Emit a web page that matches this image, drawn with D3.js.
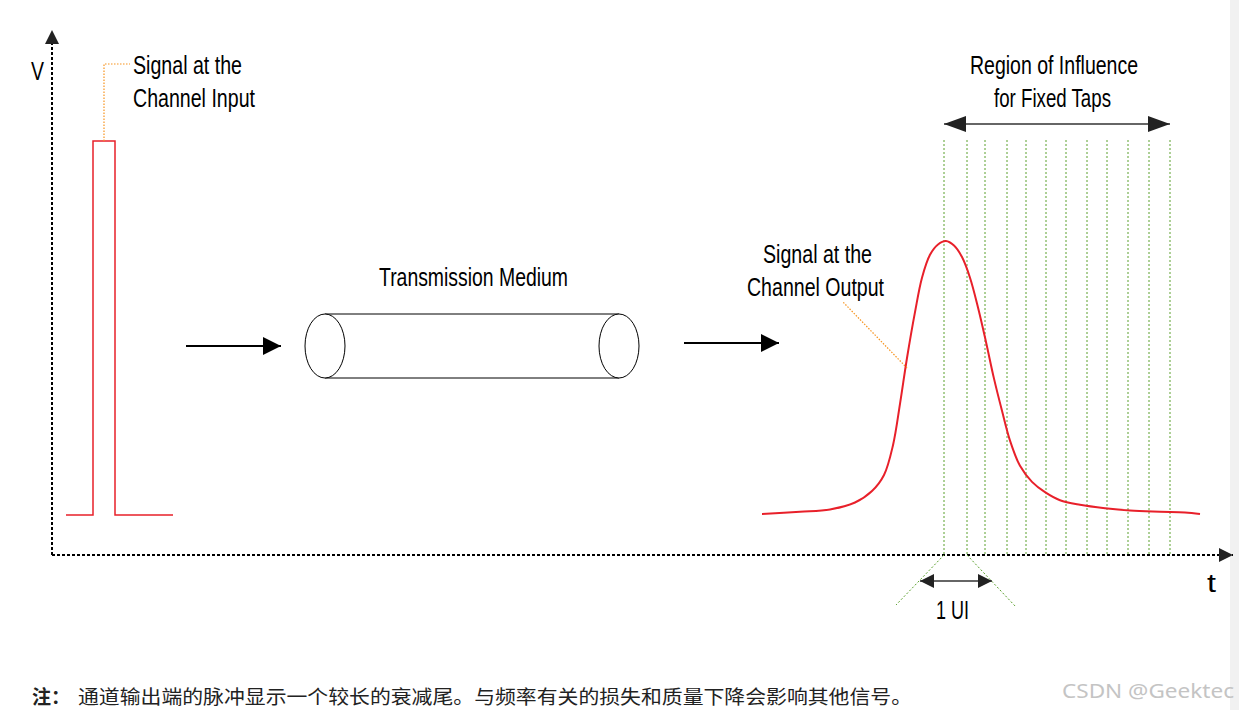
<!DOCTYPE html>
<html><head><meta charset="utf-8">
<script src="https://cdn.jsdelivr.net/npm/d3@7"></script>
<style>body{margin:0;background:#fff}text{font-family:"Liberation Sans","DejaVu Sans",sans-serif;}</style>
</head><body><svg id="c" width="1239" height="710"></svg>
<script>
// Data (time in diagram units, voltage units)
const inputPulseT = [66, 93, 93, 115, 115, 173];
const inputPulseV = [0, 0, 100, 100, 0, 0];
const outT = [762, 800, 830, 855, 872, 884, 893, 900, 907, 915, 922, 930, 938, 946, 954, 962, 970, 978, 986, 994, 1002, 1010, 1020, 1032, 1045, 1060, 1080, 1105, 1130, 1160, 1185, 1200];
const outV = [0, 1, 2, 5, 10, 17, 30, 48, 68, 88, 103, 113, 117.5, 119, 117, 112, 103, 90, 75, 59, 45, 32, 21, 14, 9.5, 6, 4, 2.5, 1.5, 1, 0.7, 0];
const tapT = [944, 967, 985, 1007, 1026, 1046, 1066, 1087, 1107, 1128, 1149, 1170];
const labels = {v:"V", t:"t", input:["Signal at the","Channel Input"], output:["Signal at the","Channel Output"], medium:"Transmission Medium", region:["Region of Influence","for Fixed Taps"], ui:"1 UI"};
const note = "通道输出端的脉冲显示一个较长的衰减尾。与频率有关的损失和质量下降会影响其他信号。";

const svg = d3.select("#c");
const x = d3.scaleLinear().domain([0,1239]).range([0,1239]);
const y = d3.scaleLinear().domain([0,100]).range([515,141]);
const yOut = d3.scaleLinear().domain([0,119]).range([514,241]);
const defs = svg.append("defs");
defs.append("marker").attr("id","big").attr("viewBox","0 0 22 16").attr("refX",22).attr("refY",8)
 .attr("markerWidth",22).attr("markerHeight",16).attr("markerUnits","userSpaceOnUse").attr("orient","auto-start-reverse")
 .append("path").attr("d","M0,0L22,8L0,16Z").attr("fill","#222");
defs.append("marker").attr("id","mid").attr("viewBox","0 0 14 14").attr("refX",14).attr("refY",7)
 .attr("markerWidth",14).attr("markerHeight",14).attr("markerUnits","userSpaceOnUse").attr("orient","auto-start-reverse")
 .append("path").attr("d","M0,0L14,7L0,14Z").attr("fill","#222");
defs.append("marker").attr("id","arr").attr("viewBox","0 0 18 18").attr("refX",18).attr("refY",9)
 .attr("markerWidth",18).attr("markerHeight",18).attr("markerUnits","userSpaceOnUse").attr("orient","auto")
 .append("path").attr("d","M0,0L18,9L0,18Z").attr("fill","#000");

function label(s,xx,yy,w,anchor){
  svg.append("text").attr("x",xx).attr("y",yy).attr("text-anchor",anchor||"start").attr("font-size",25)
    .attr("textLength",w).attr("lengthAdjust","spacingAndGlyphs").text(s);
}

svg.append("rect").attr("x",1230).attr("y",0).attr("width",9).attr("height",710).attr("fill","#f1f1f1");

// axes
svg.append("line").attr("x1",52).attr("y1",555).attr("x2",52).attr("y2",30).attr("stroke","#000").attr("stroke-width",2).attr("stroke-dasharray","3,2").attr("marker-end","url(#mid)");
svg.append("line").attr("x1",52).attr("y1",555).attr("x2",1233).attr("y2",555).attr("stroke","#000").attr("stroke-width",2).attr("stroke-dasharray","3,2").attr("marker-end","url(#mid)");
label(labels.v,31,80,13);
label(labels.t,1207,592,9);

// taps
svg.selectAll(".tap").data(tapT).join("line").attr("x1",d=>x(d)).attr("x2",d=>x(d)).attr("y1",140).attr("y2",555)
 .attr("stroke","#5aa02c").attr("stroke-width",1).attr("stroke-dasharray","2,2");

// input pulse
const line = d3.line().x(d=>x(d[0])).y(d=>y(d[1]));
svg.append("path").datum(inputPulseT.map((t,i)=>[t,inputPulseV[i]])).attr("d",line).attr("fill","none").attr("stroke","#e8202a").attr("stroke-width",1.5);
svg.append("path").attr("d","M104,141V64H130").attr("fill","none").attr("stroke","#f7931e").attr("stroke-width",1.2).attr("stroke-dasharray","1.5,1.5");
label(labels.input[0],133,74,109);
label(labels.input[1],133,107,122);

// output curve
const cl = d3.line().x(d=>x(d[0])).y(d=>yOut(d[1])).curve(d3.curveCatmullRom);
svg.append("path").datum(outT.map((t,i)=>[t,outV[i]])).attr("d",cl).attr("fill","none").attr("stroke","#e8202a").attr("stroke-width",2);
svg.append("line").attr("x1",907).attr("y1",368).attr("x2",843).attr("y2",302).attr("stroke","#f7931e").attr("stroke-width",1.2).attr("stroke-dasharray","1.5,1.5");
label(labels.output[0],763,263,109);
label(labels.output[1],747,296,137);

// arrows
svg.append("line").attr("x1",186).attr("y1",346).attr("x2",281).attr("y2",346).attr("stroke","#000").attr("stroke-width",2).attr("marker-end","url(#arr)");
svg.append("line").attr("x1",684).attr("y1",343).attr("x2",779).attr("y2",343).attr("stroke","#000").attr("stroke-width",2).attr("marker-end","url(#arr)");

// cylinder
svg.append("path").attr("d","M325,314H619M325,378H619").attr("stroke","#000").attr("stroke-width",1);
svg.append("ellipse").attr("cx",325).attr("cy",346).attr("rx",20).attr("ry",32).attr("fill","#fff").attr("stroke","#000");
svg.append("ellipse").attr("cx",619).attr("cy",346).attr("rx",20).attr("ry",32).attr("fill","#fff").attr("stroke","#000");
label(labels.medium,379,286,189);

// region
svg.append("line").attr("x1",x(tapT[0])).attr("x2",x(tapT[tapT.length-1])).attr("y1",124).attr("y2",124).attr("stroke","#333").attr("stroke-width",1.3)
 .attr("marker-start","url(#big)").attr("marker-end","url(#big)");
label(labels.region[0],970,74,168);
label(labels.region[1],994,107,117);

// 1 UI
svg.append("line").attr("x1",x(tapT[0])).attr("y1",555).attr("x2",896).attr("y2",605).attr("stroke","#5aa02c").attr("stroke-dasharray","2,2");
svg.append("line").attr("x1",x(tapT[1])).attr("y1",555).attr("x2",1016).attr("y2",607).attr("stroke","#5aa02c").attr("stroke-dasharray","2,2");
svg.append("line").attr("x1",920).attr("x2",992).attr("y1",581).attr("y2",581).attr("stroke","#333").attr("stroke-width",1.3)
 .attr("marker-start","url(#mid)").attr("marker-end","url(#mid)");
label(labels.ui,936,619,33);

// note
svg.append("text").attr("x",32).attr("y",704).attr("font-size",19).attr("font-weight","bold").attr("style","font-family:'Noto Sans CJK SC'").attr("fill","#222").text("注：");
svg.append("text").attr("x",78).attr("y",704).attr("font-size",19).attr("textLength",834).attr("lengthAdjust","spacingAndGlyphs").attr("style","font-family:'Noto Sans CJK SC'").attr("fill","#222").text(note);
svg.append("text").attr("x",1062).attr("y",698).attr("font-size",19).attr("textLength",172).attr("lengthAdjust","spacingAndGlyphs").attr("style","font-family:'Noto Sans',sans-serif").attr("fill","#c4c4c4").text("CSDN @Geektec");
</script></body></html>
